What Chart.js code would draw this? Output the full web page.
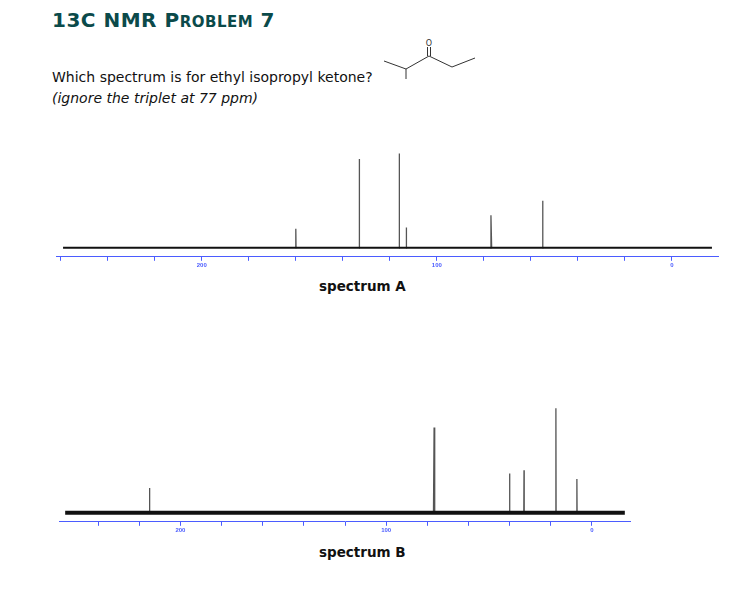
<!DOCTYPE html>
<html><head><meta charset="utf-8">
<script src="https://cdn.jsdelivr.net/npm/chart.js@4/dist/chart.umd.min.js"></script>
<style>
body{margin:0;background:#fff;font-family:"DejaVu Sans",Verdana,sans-serif;width:744px;height:598px;position:relative;overflow:hidden}
.t{position:absolute;left:52px;top:8px;font-weight:bold;color:#0b4a4a;font-size:20px;letter-spacing:0.5px}
.t small{font-size:15px}
.q{position:absolute;left:52px;top:67px;font-size:14px;color:#111;line-height:21px}
.cap{position:absolute;font-weight:bold;font-size:13.5px;color:#111}
.box{position:absolute}
</style></head><body>
<div class="t">13C NMR P<small>ROBLEM</small> 7</div>
<div class="q">Which spectrum is for ethyl isopropyl ketone?<br><i>(ignore the triplet at 77 ppm)</i></div>
<svg style="position:absolute;left:0;top:0" width="744" height="100">
<polyline points="384,61 406,69 429,56 452,67 475,58" fill="none" stroke="#333" stroke-width="1"/>
<line x1="406" y1="69" x2="406" y2="79" stroke="#333" stroke-width="1"/>
<line x1="427.5" y1="56" x2="427.5" y2="47" stroke="#333" stroke-width="1"/>
<line x1="430.5" y1="56" x2="430.5" y2="47" stroke="#333" stroke-width="1"/>
<text x="429" y="46" font-size="8" text-anchor="middle" fill="#333">O</text>
</svg>
<div class="box" style="left:56px;top:140px;width:663px;height:130px"><canvas id="a"></canvas></div>
<div class="cap" style="left:319px;top:278px">spectrum A</div>
<div class="box" style="left:59px;top:405px;width:572px;height:130px"><canvas id="b"></canvas></div>
<div class="cap" style="left:319px;top:544px">spectrum B</div>
<script>
const tickValues=[0,100,200];
const peaksA_ppm=[160,133,116,113,77,55];
const peaksA_h=[17,79,84,18,29,42];
const peaksB_ppm=[215,76.7,40,33,17.5,7.3];
const peaksB_h=[22,76,35,38,93,30];
const rangeA=[-20,262];
const rangeB=[-19,259];
function make(id,ppm,h,range,noise){
  const peakPts=[];
  ppm.forEach((p,i)=>{
    const width = Math.abs(p-77)<1 ? 0.3 : 0.1;
    peakPts.push({x:p+width,y:0},{x:p,y:h[i]},{x:p-width,y:0},{x:NaN,y:NaN});
  });
  new Chart(document.getElementById(id),{
    type:'scatter',
    data:{datasets:[
      {data:[{x:range[0]+3,y:0},{x:range[1]-3,y:0}],showLine:true,borderColor:'#111',borderWidth:noise,pointRadius:0},
      {data:peakPts,showLine:true,spanGaps:false,borderColor:'#555',borderWidth:1.3,pointRadius:0}
    ]},
    options:{animation:false,responsive:true,maintainAspectRatio:false,
      layout:{padding:0},
      plugins:{legend:{display:false},tooltip:{enabled:false}},
      scales:{
        y:{display:false,min:-8,max:96},
        x:{reverse:true,min:range[0],max:range[1],
          border:{color:'#4b5cff',width:1},
          grid:{drawOnChartArea:false,color:'#4b5cff',tickLength:4},
          afterBuildTicks:s=>{const t=[];for(let v=-20;v<=260;v+=20)if(v>=range[0]&&v<=range[1])t.push({value:v});s.ticks=t;},
          ticks:{autoSkip:false,maxRotation:0,color:'#4b5cff',font:{size:6,weight:'bold'},padding:1,
            callback:v=>tickValues.includes(v)?String(v):''}
        }
      }
    }
  });
}
make('a',peaksA_ppm,peaksA_h,rangeA,2);
make('b',peaksB_ppm,peaksB_h,rangeB,4);
</script>
</body></html>
